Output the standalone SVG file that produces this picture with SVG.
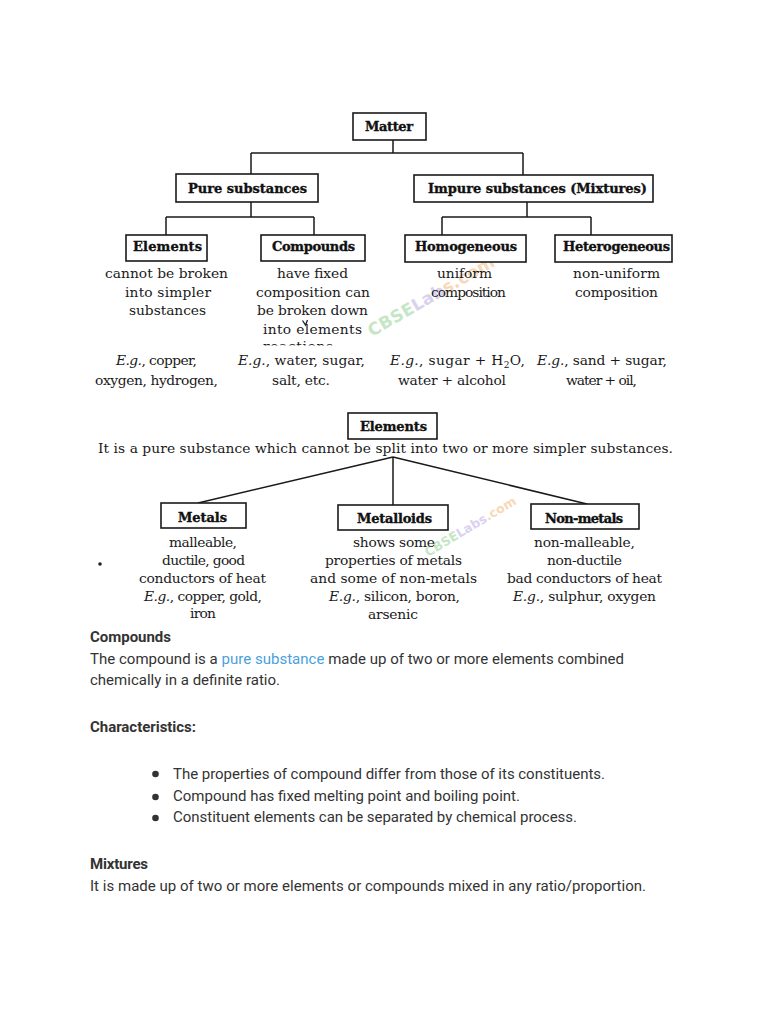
<svg xmlns="http://www.w3.org/2000/svg" width="768" height="1024" viewBox="0 0 768 1024">
<style>
.box{fill:#fff;stroke:#1a1a1a;stroke-width:1.6}
.con{stroke:#1a1a1a;stroke-width:1.5;fill:none}
.lbl{font-family:"DejaVu Serif","Liberation Serif",serif;font-weight:bold;font-size:13px;fill:#111;stroke:#111;stroke-width:0.35;text-anchor:middle}
.t{font-family:"DejaVu Serif","Liberation Serif",serif;font-size:13.8px;fill:#1a1a1a;text-anchor:middle}
.it{font-style:italic}
.body{font-family:Roboto,"Liberation Sans",sans-serif;font-size:15px;fill:#333}
.hd{font-family:Roboto,"Liberation Sans",sans-serif;font-size:15px;font-weight:bold;fill:#333}
.link{fill:#4a9fe0}
.wm{font-family:"DejaVu Sans","Liberation Sans",sans-serif;font-weight:bold;opacity:0.6}
.g{fill:#9fd69f}.p{fill:#c2b4e6}.o{fill:#f2c08a}
</style>
<defs>
<clipPath id="clipR"><rect x="250" y="339.5" width="110" height="6"/></clipPath>
</defs>
<rect width="768" height="1024" fill="#fff"/>

<g id="connectors">
<path class="con" d="M393,140V153M251,153H523M251,153V174M523,153V175"/>
<path class="con" d="M251,202V217M166,217H314M166,217V235M314,217V235"/>
<path class="con" d="M527,202V217M442,217H591M442,217V235M591,217V235"/>
<path class="con" d="M393,457L198,503M393,457V505M393,457L587,504"/>
</g>

<g id="watermarks">
<text class="wm" x="372" y="337" font-size="17" textLength="143" transform="rotate(-30 372 337)"><tspan class="g">CBSE</tspan><tspan class="p">Lab</tspan><tspan class="o">s.com</tspan></text>
<text class="wm" x="428" y="557" font-size="12.5" font-weight="normal" textLength="104" transform="rotate(-31 428 557)"><tspan class="g">CBSE</tspan><tspan class="p">Labs</tspan><tspan class="o">.com</tspan></text>
</g>

<g id="matter">
<rect class="box" x="353" y="113" width="73" height="27"/>
<text class="lbl" x="389" y="131" textLength="48">Matter</text>
</g>
<g id="pure">
<rect class="box" x="176" y="174" width="142" height="28"/>
<text class="lbl" x="247.5" y="193" textLength="119">Pure substances</text>
</g>
<g id="impure">
<rect class="box" x="414" y="175" width="239" height="27"/>
<text class="lbl" x="537.5" y="193" textLength="219">Impure substances (Mixtures)</text>
</g>

<g id="elements-top">
<rect class="box" x="126" y="235" width="81" height="26"/>
<text class="lbl" x="167.5" y="250.5" textLength="69">Elements</text>
<text class="t" x="166.5" y="278" textLength="123">cannot be broken</text>
<text class="t" x="168" y="297" textLength="86">into simpler</text>
<text class="t" x="167.5" y="315" textLength="77">substances</text>
<text class="t" x="156.5" y="365" textLength="81"><tspan class="it">E.g.</tspan>, copper,</text>
<text class="t" x="156.5" y="385" textLength="123">oxygen, hydrogen,</text>
</g>

<g id="compounds-top">
<rect class="box" x="261" y="235" width="104" height="26"/>
<text class="lbl" x="313.5" y="250.5" textLength="83">Compounds</text>
<text class="t" x="312.5" y="278" textLength="71">have fixed</text>
<text class="t" x="313" y="297" textLength="114">composition can</text>
<text class="t" x="312.5" y="315" textLength="111">be broken down</text>
<text class="t" x="312.5" y="334" textLength="99">into elements</text>
<path d="M302.5,320.5L305.5,325L307.5,320" stroke="#222" stroke-width="1.3" fill="none"/>
<text class="t" x="298" y="351" textLength="70" clip-path="url(#clipR)">reactions</text>
<text class="t" x="301.5" y="365" textLength="127"><tspan class="it">E.g.</tspan>, water, sugar,</text>
<text class="t" x="301" y="385" textLength="58">salt, etc.</text>
</g>

<g id="homogeneous">
<rect class="box" x="405" y="235" width="121" height="27"/>
<text class="lbl" x="466" y="250.5" textLength="102">Homogeneous</text>
<text class="t" x="464.5" y="278" textLength="55">uniform</text>
<text class="t" x="468.5" y="297" textLength="75">composition</text>
<text class="t" x="457.5" y="365" textLength="135"><tspan class="it">E.g.</tspan>, sugar + H<tspan font-size="9" dy="3">2</tspan><tspan dy="-3">O,</tspan></text>
<text class="t" x="452" y="385" textLength="108">water + alcohol</text>
</g>

<g id="heterogeneous">
<rect class="box" x="555" y="235" width="117" height="27"/>
<text class="lbl" x="616.5" y="250.5" textLength="107">Heterogeneous</text>
<text class="t" x="616.5" y="278" textLength="87">non-uniform</text>
<text class="t" x="616.5" y="297" textLength="83">composition</text>
<text class="t" x="602" y="365" textLength="130"><tspan class="it">E.g.</tspan>, sand + sugar,</text>
<text class="t" x="601.5" y="385" textLength="71">water + oil,</text>
</g>

<g id="elements-main">
<rect class="box" x="348" y="413" width="89" height="26"/>
<text class="lbl" x="393.5" y="431" textLength="67">Elements</text>
<text class="t" x="385.5" y="453" textLength="575">It is a pure substance which cannot be split into two or more simpler substances.</text>
</g>

<g id="metals">
<rect class="box" x="161" y="503" width="85" height="25"/>
<text class="lbl" x="202.5" y="522" textLength="49">Metals</text>
<text class="t" x="203" y="547" textLength="68">malleable,</text>
<text class="t" x="203.5" y="565" textLength="83">ductile, good</text>
<text class="t" x="202.5" y="583" textLength="127">conductors of heat</text>
<text class="t" x="203" y="601" textLength="118"><tspan class="it">E.g.</tspan>, copper, gold,</text>
<text class="t" x="203" y="618" textLength="26">iron</text>
<circle cx="100" cy="564" r="1.8" fill="#222"/>
</g>

<g id="metalloids">
<rect class="box" x="338" y="505" width="110" height="25"/>
<text class="lbl" x="394.5" y="523" textLength="75">Metalloids</text>
<text class="t" x="394" y="547" textLength="82">shows some</text>
<text class="t" x="393.5" y="565" textLength="137">properties of metals</text>
<text class="t" x="393.5" y="583" textLength="167">and some of non-metals</text>
<text class="t" x="394.5" y="601" textLength="131"><tspan class="it">E.g.</tspan>, silicon, boron,</text>
<text class="t" x="393" y="619" textLength="50">arsenic</text>
</g>

<g id="nonmetals">
<rect class="box" x="531" y="504" width="108" height="25"/>
<text class="lbl" x="584" y="523" textLength="78">Non-metals</text>
<text class="t" x="584.5" y="547" textLength="101">non-malleable,</text>
<text class="t" x="584.5" y="565" textLength="75">non-ductile</text>
<text class="t" x="584.5" y="583" textLength="155">bad conductors of heat</text>
<text class="t" x="584.5" y="601" textLength="143"><tspan class="it">E.g.</tspan>, sulphur, oxygen</text>
</g>

<g id="text-body">
<text class="hd" x="90" y="642" textLength="81">Compounds</text>
<text class="body" x="90" y="664" textLength="534">The compound is a <tspan class="link">pure substance</tspan> made up of two or more elements combined</text>
<text class="body" x="90" y="685" textLength="190">chemically in a definite ratio.</text>
<text class="hd" x="90" y="732" textLength="106">Characteristics:</text>
<circle cx="155.5" cy="774" r="3.3" fill="#333"/>
<circle cx="155.5" cy="797" r="3.3" fill="#333"/>
<circle cx="155.5" cy="818" r="3.3" fill="#333"/>
<text class="body" x="173" y="779" textLength="432">The properties of compound differ from those of its constituents.</text>
<text class="body" x="173" y="801" textLength="347">Compound has fixed melting point and boiling point.</text>
<text class="body" x="173" y="822" textLength="404">Constituent elements can be separated by chemical process.</text>
<text class="hd" x="90" y="869" textLength="58">Mixtures</text>
<text class="body" x="90" y="891" textLength="556">It is made up of two or more elements or compounds mixed in any ratio/proportion.</text>
</g>
</svg>
